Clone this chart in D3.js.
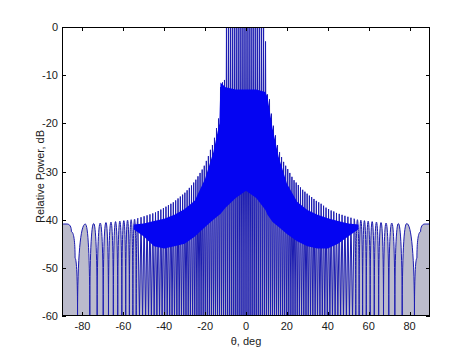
<!DOCTYPE html>
<html>
<head>
<meta charset="utf-8">
<script src="https://cdn.jsdelivr.net/npm/d3@7"></script>
<style>
  body { margin: 0; background: #fff; }
  text { font-family: "Liberation Sans", Arial, sans-serif; fill: #1a1a1a; }
</style>
</head>
<body>
<div id="chart"></div>
<script>

// lobe peaks, right half (deg); the left half mirrors them
const peakAngle = [0, 0.95, 1.90, 2.86, 3.81, 4.77, 5.72, 6.68, 7.64, 8.60,
    9.56, 10.53, 11.50, 12.47, 13.45, 14.43, 15.42, 16.41, 17.40, 18.40,
    19.41, 20.42, 21.44, 22.47, 23.50, 24.54, 25.59, 26.65, 27.72, 28.81,
    29.90, 31.00, 32.12, 33.25, 34.40, 35.56, 36.74, 37.94, 39.15, 40.39,
    41.65, 42.94, 44.26, 45.60, 46.98, 48.39, 49.84, 51.34, 52.89, 54.50,
    56.18, 57.93, 59.76, 61.71, 63.81, 66.04, 68.50, 71.30, 74.51, 78.61];

// nulls that follow each peak (deg)
const nullAngle = [0.48, 1.43, 2.38, 3.33, 4.29, 5.24, 6.20, 7.16, 8.12, 9.08,
    10.05, 11.02, 11.99, 12.96, 13.94, 14.92, 15.91, 16.90, 17.90, 18.90,
    19.91, 20.93, 21.95, 22.98, 24.02, 25.07, 26.12, 27.19, 28.26, 29.35,
    30.45, 31.56, 32.68, 33.82, 34.98, 36.15, 37.33, 38.54, 39.77, 41.02,
    42.29, 43.59, 44.92, 46.28, 47.68, 49.11, 50.59, 52.11, 53.70, 55.33,
    57.04, 58.83, 60.73, 62.74, 64.89, 67.26, 69.84, 72.81, 76.40, 82.40];

const peakDbRight = [0, 0, 0, 0, 0, 0, 0, 0, 0, 0,
    -3, -14, -15, -18, -20.5, -22.5, -24.5, -26, -27, -28,
    -28.8, -29.5, -30.3, -31.1, -31.8, -32.3, -32.8, -33.3, -33.8, -34.2,
    -34.6, -35, -35.3, -35.7, -36.1, -36.4, -36.7, -37.1, -37.5, -37.8,
    -38.1, -38.3, -38.6, -38.8, -39, -39.2, -39.4, -39.6, -39.8, -40,
    -40.1, -40.2, -40.3, -40.4, -40.5, -40.6, -40.7, -40.7, -40.8, -40.8];

const peakDbLeft = [0, 0, 0, 0, 0, 0, 0, 0, 0, 0,
    0, -11, -11.5, -12.5, -19, -21, -23, -24.5, -25.5, -26.8,
    -27.8, -28.8, -29.6, -30.3, -31, -31.7, -32.3, -32.9, -33.4, -33.9,
    -34.4, -34.8, -35.2, -35.6, -36, -36.4, -36.7, -37, -37.3, -37.6,
    -37.9, -38.2, -38.5, -38.7, -38.9, -39.1, -39.3, -39.5, -39.7, -39.9,
    -40, -40.1, -40.2, -40.3, -40.4, -40.5, -40.6, -40.7, -40.8, -40.9];

// nulls reach the -60 dB floor of the plot
const nullDb = -60;

// endfire lobe beyond the last null
const edgeAngle = [83.6, 85.4, 87.5, 90];
const edgeDb = [-48, -42.5, -40.9, -40.9];

// solid band where the fine structure merges
const bandAngle = [-55, -50, -45, -40, -35, -30, -25, -20, -16, -13, -12.5, -10, -5, 0,
    5, 9.5, 10.5, 13, 16, 20, 25, 30, 35, 40, 45, 50, 55];
const bandTop = [-41, -40.8, -40.3, -39.8, -39, -37.8, -36, -31.5, -26, -20, -11.5, -12.5, -13, -13,
    -13, -13.5, -14.5, -21, -27, -32.5, -36.3, -38, -39, -39.7, -40.3, -40.8, -41];
const bandBottom = [-42, -43.5, -45.5, -46, -45.5, -45, -43.5, -41.5, -40, -39, -38.8, -37.5, -35.5, -34,
    -35.5, -38, -39, -40.5, -41.5, -43, -44.5, -45.5, -46, -46, -45, -43.5, -42];

const xTicks = [-80, -60, -40, -20, 0, 20, 40, 60, 80];
const yTicks = [0, -10, -20, -30, -40, -50, -60];

function main(){

    let width = 474;
    let height = 355;
    let left = 62, right = 430, top = 27, bottom = 316;

    let svg = d3.select("#chart")
                .append("svg")
                .attr("width", width)
                .attr("height", height)

    let xScale = d3.scaleLinear().domain([-90, 90]).range([left, right])
    let yScale = d3.scaleLinear().domain([-60, 0]).range([bottom, top])

    // build the trace from -90 to 90
    let pts = [];
    for (let i = edgeAngle.length - 1; i >= 0; i--) pts.push([-edgeAngle[i], edgeDb[i]]);
    for (let j = peakAngle.length - 1; j >= 0; j--){
        pts.push([-nullAngle[j], nullDb]);
        pts.push([-peakAngle[j], peakDbLeft[j]]);
    }
    for (let j = 0; j < peakAngle.length; j++){
        if (j > 0) pts.push([peakAngle[j], peakDbRight[j]]);
        pts.push([nullAngle[j], nullDb]);
    }
    for (let i = 0; i < edgeAngle.length; i++) pts.push([edgeAngle[i], edgeDb[i]]);

    // round tops and steep sides where lobes are wide; straight where dense
    function lobePath(p, close){
        let path = d3.path();
        let px = p.map(d => [xScale(d[0]), yScale(d[1])]);
        path.moveTo(px[0][0], px[0][1]);
        for (let i = 1; i < px.length; i++){
            let a = px[i-1], b = px[i];
            let dx = b[0] - a[0], dy = b[1] - a[1];
            if (dx < 1.6){
                path.lineTo(b[0], b[1]);
            } else if (dy > 0){
                path.bezierCurveTo(a[0] + 0.6*dx, a[1], b[0], a[1] + 0.35*dy, b[0], b[1]);
            } else {
                path.bezierCurveTo(a[0], a[1] + 0.65*dy, a[0] + 0.4*dx, b[1], b[0], b[1]);
            }
        }
        if (close){
            path.lineTo(px[px.length-1][0], bottom + 2);
            path.lineTo(px[0][0], bottom + 2);
            path.closePath();
        }
        return path.toString();
    }

    svg.append("clipPath").attr("id", "plotClip")
        .append("rect")
        .attr("x", left).attr("y", top)
        .attr("width", right - left).attr("height", bottom - top)

    let plot = svg.append("g").attr("clip-path", "url(#plotClip)")

    // grey look under the arches
    plot.append("path")
        .attr("d", lobePath(pts, true))
        .attr("fill", "#bbbbcc")

    plot.append("path")
        .attr("d", lobePath(pts, false))
        .attr("fill", "none")
        .attr("stroke", "#1c1cb0")
        .attr("stroke-width", 1)

    let band = bandAngle.map((a, i) => [a, bandTop[i], bandBottom[i]]);
    plot.append("path")
        .datum(band)
        .attr("d", d3.area().x(d => xScale(d[0])).y0(d => yScale(d[2])).y1(d => yScale(d[1])))
        .attr("fill", "#0404f2")

    // axes box with inward ticks
    let tickLen = 4;
    let axes = svg.append("g").attr("stroke", "#000").attr("stroke-width", 1)
    axes.append("rect")
        .attr("x", left + 0.5).attr("y", top + 0.5)
        .attr("width", right - left - 1).attr("height", bottom - top - 1)
        .attr("fill", "none")

    xTicks.forEach(t => {
        let x = Math.round(xScale(t)) + 0.5;
        axes.append("line").attr("x1", x).attr("x2", x).attr("y1", bottom).attr("y2", bottom - tickLen)
        axes.append("line").attr("x1", x).attr("x2", x).attr("y1", top).attr("y2", top + tickLen)
        svg.append("text")
            .attr("x", xScale(t)).attr("y", bottom + 14)
            .attr("text-anchor", "middle")
            .attr("font-size", 11)
            .text(t)
    })

    yTicks.forEach(t => {
        let y = Math.round(yScale(t)) + 0.5;
        axes.append("line").attr("x1", left).attr("x2", left + tickLen).attr("y1", y).attr("y2", y)
        axes.append("line").attr("x1", right).attr("x2", right - tickLen).attr("y1", y).attr("y2", y)
        svg.append("text")
            .attr("x", left - 4).attr("y", yScale(t) + 4)
            .attr("text-anchor", "end")
            .attr("font-size", 11)
            .text(t)
    })

    svg.append("text")
        .attr("x", (left + right) / 2).attr("y", 345)
        .attr("text-anchor", "middle")
        .attr("font-size", 11)
        .text("θ, deg")

    svg.append("text")
        .attr("transform", `translate(44,${(top + bottom) / 2 + 5}) rotate(-90)`)
        .attr("text-anchor", "middle")
        .attr("font-size", 11)
        .text("Relative Power, dB")
}

main();
</script>
</body>
</html>
